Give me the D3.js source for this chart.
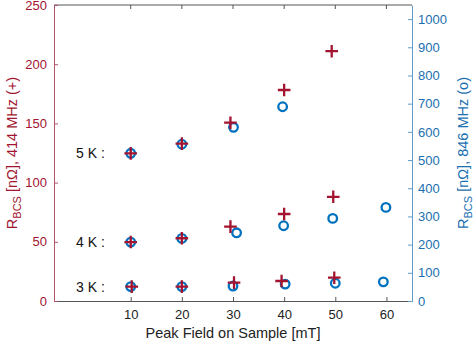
<!DOCTYPE html>
<html><head><meta charset="utf-8">
<script src="https://cdn.jsdelivr.net/npm/d3@7"></script>
<style>body{margin:0;background:#fff}svg{display:block;font-family:"Liberation Sans",Arial,sans-serif}</style>
</head><body><svg id="c" width="474" height="342"></svg>
<script>
// Data
const xTicks = [10, 20, 30, 40, 50, 60];
const leftTicks = [0, 50, 100, 150, 200, 250];
const rightTicks = [0, 100, 200, 300, 400, 500, 600, 700, 800, 900, 1000];
const tempLabels = ["5 K :", "4 K :", "3 K :"];
const tempLabelLeftValues = [124.7, 49.8, 12.1];

// 414 MHz (crosses, left axis)
const cross5K_x = [10, 20, 29.5, 40, 49.3];
const cross5K_y = [124.7, 132.9, 150.6, 178.2, 211];
const cross4K_x = [10, 20, 29.5, 40, 49.6];
const cross4K_y = [49.8, 53, 62.8, 73.5, 88];
const cross3K_x = [10.2, 20, 30.2, 39.5, 49.8];
const cross3K_y = [12.1, 12.1, 15.5, 16.9, 19.7];

// 846 MHz (circles, right axis)
const circ5K_x = [10, 20, 30.1, 39.7];
const circ5K_y = [524, 556, 616, 689];
const circ4K_x = [10, 20, 30.7, 39.9, 49.5, 59.9];
const circ4K_y = [209, 222, 242, 267, 293, 332];
const circ3K_x = [10, 20, 30, 40.2, 50, 59.4];
const circ3K_y = [51, 51, 53, 60, 63, 68];

const RED = "#a2142f", BLUE = "#0072bd";
const RED_AX = "#b3566c", BLUE_AX = "#5f9cc9";

const svg = d3.select("#c");
const L = 54, R = 412, T = 5, B = 301;
const x = d3.scaleLinear().domain([-5, 65]).range([L, R]);
const yL = d3.scaleLinear().domain([0, 250]).range([B, T]);
const yR = d3.scaleLinear().domain([0, 1050]).range([B, T]);

// top border with ticks
svg.append("line").attr("x1", L).attr("x2", R).attr("y1", T).attr("y2", T).attr("stroke", "#555").attr("stroke-width", 1);
svg.selectAll(".tt").data(xTicks).enter().append("line")
  .attr("x1", d => x(d)).attr("x2", d => x(d)).attr("y1", T).attr("y2", T + 4).attr("stroke", "#555");

// bottom axis
const gx = svg.append("g").attr("transform", `translate(0,${B})`)
  .call(d3.axisBottom(x).tickValues(xTicks).tickFormat(d3.format("d")).tickSizeInner(-4).tickSizeOuter(0).tickPadding(9));
gx.select(".domain").attr("stroke", "#555");
gx.selectAll(".tick line").attr("stroke", "#555");
gx.selectAll("text").attr("font-size", 13).attr("fill", "#222").attr("font-family", "Liberation Sans, Arial, sans-serif");

// left axis
const gl = svg.append("g").attr("transform", `translate(${L},0)`)
  .call(d3.axisLeft(yL).tickValues(leftTicks).tickFormat(d3.format("d")).tickSizeInner(-4).tickSizeOuter(0).tickPadding(7));
gl.select(".domain").attr("stroke", RED_AX);
gl.selectAll(".tick line").attr("stroke", RED_AX);
gl.selectAll("text").attr("font-size", 13).attr("fill", RED).attr("font-family", "Liberation Sans, Arial, sans-serif");

// right axis
const gr = svg.append("g").attr("transform", `translate(${R},0)`)
  .call(d3.axisRight(yR).tickValues(rightTicks).tickFormat(d3.format("d")).tickSizeInner(-4).tickSizeOuter(0).tickPadding(6));
gr.select(".domain").attr("stroke", BLUE_AX);
gr.selectAll(".tick line").attr("stroke", BLUE_AX);
gr.selectAll("text").attr("font-size", 13).attr("fill", "#1a6fb0").attr("font-family", "Liberation Sans, Arial, sans-serif");

// axis titles
function rotLabel(cx, cy, color, rest) {
  const t = svg.append("text").attr("transform", `translate(${cx},${cy}) rotate(-90)`)
    .attr("text-anchor", "middle").attr("fill", color).attr("font-size", 14.5);
  t.append("tspan").text("R");
  t.append("tspan").attr("font-size", 11).attr("dy", 4).text("BCS");
  t.append("tspan").attr("dy", -4).text(rest);
}
rotLabel(17, 153, RED, " [nΩ], 414 MHz (+)");
rotLabel(468, 153, "#1a6fb0", " [nΩ], 846 MHz (o)");

svg.append("text").attr("x", (L + R) / 2).attr("y", 338).attr("text-anchor", "middle")
  .attr("font-size", 14.5).attr("fill", "#222").text("Peak Field on Sample [mT]");

// temperature labels
svg.selectAll(".tl").data(tempLabels).enter().append("text")
  .attr("x", 76).attr("y", (d, i) => yL(tempLabelLeftValues[i]) + 5)
  .attr("font-size", 14).attr("fill", "#111").text(d => d);

// circles
const circSeries = [[circ5K_x, circ5K_y], [circ4K_x, circ4K_y], [circ3K_x, circ3K_y]];
circSeries.forEach(([xs, ys]) => {
  svg.append("g").selectAll("circle").data(xs.map((v, i) => [v, ys[i]])).enter().append("circle")
    .attr("cx", d => x(d[0])).attr("cy", d => yR(d[1])).attr("r", 4.3)
    .attr("fill", "none").attr("stroke", BLUE).attr("stroke-width", 2.3);
});

// crosses
const crossSeries = [[cross5K_x, cross5K_y], [cross4K_x, cross4K_y], [cross3K_x, cross3K_y]];
const h = 6.3;
crossSeries.forEach(([xs, ys]) => {
  svg.append("g").selectAll("path").data(xs.map((v, i) => [v, ys[i]])).enter().append("path")
    .attr("d", d => { const cx = x(d[0]), cy = yL(d[1]); return `M${cx - h},${cy}H${cx + h}M${cx},${cy - h}V${cy + h}`; })
    .attr("stroke", RED).attr("stroke-width", 2.3).attr("fill", "none");
});
</script></body></html>
